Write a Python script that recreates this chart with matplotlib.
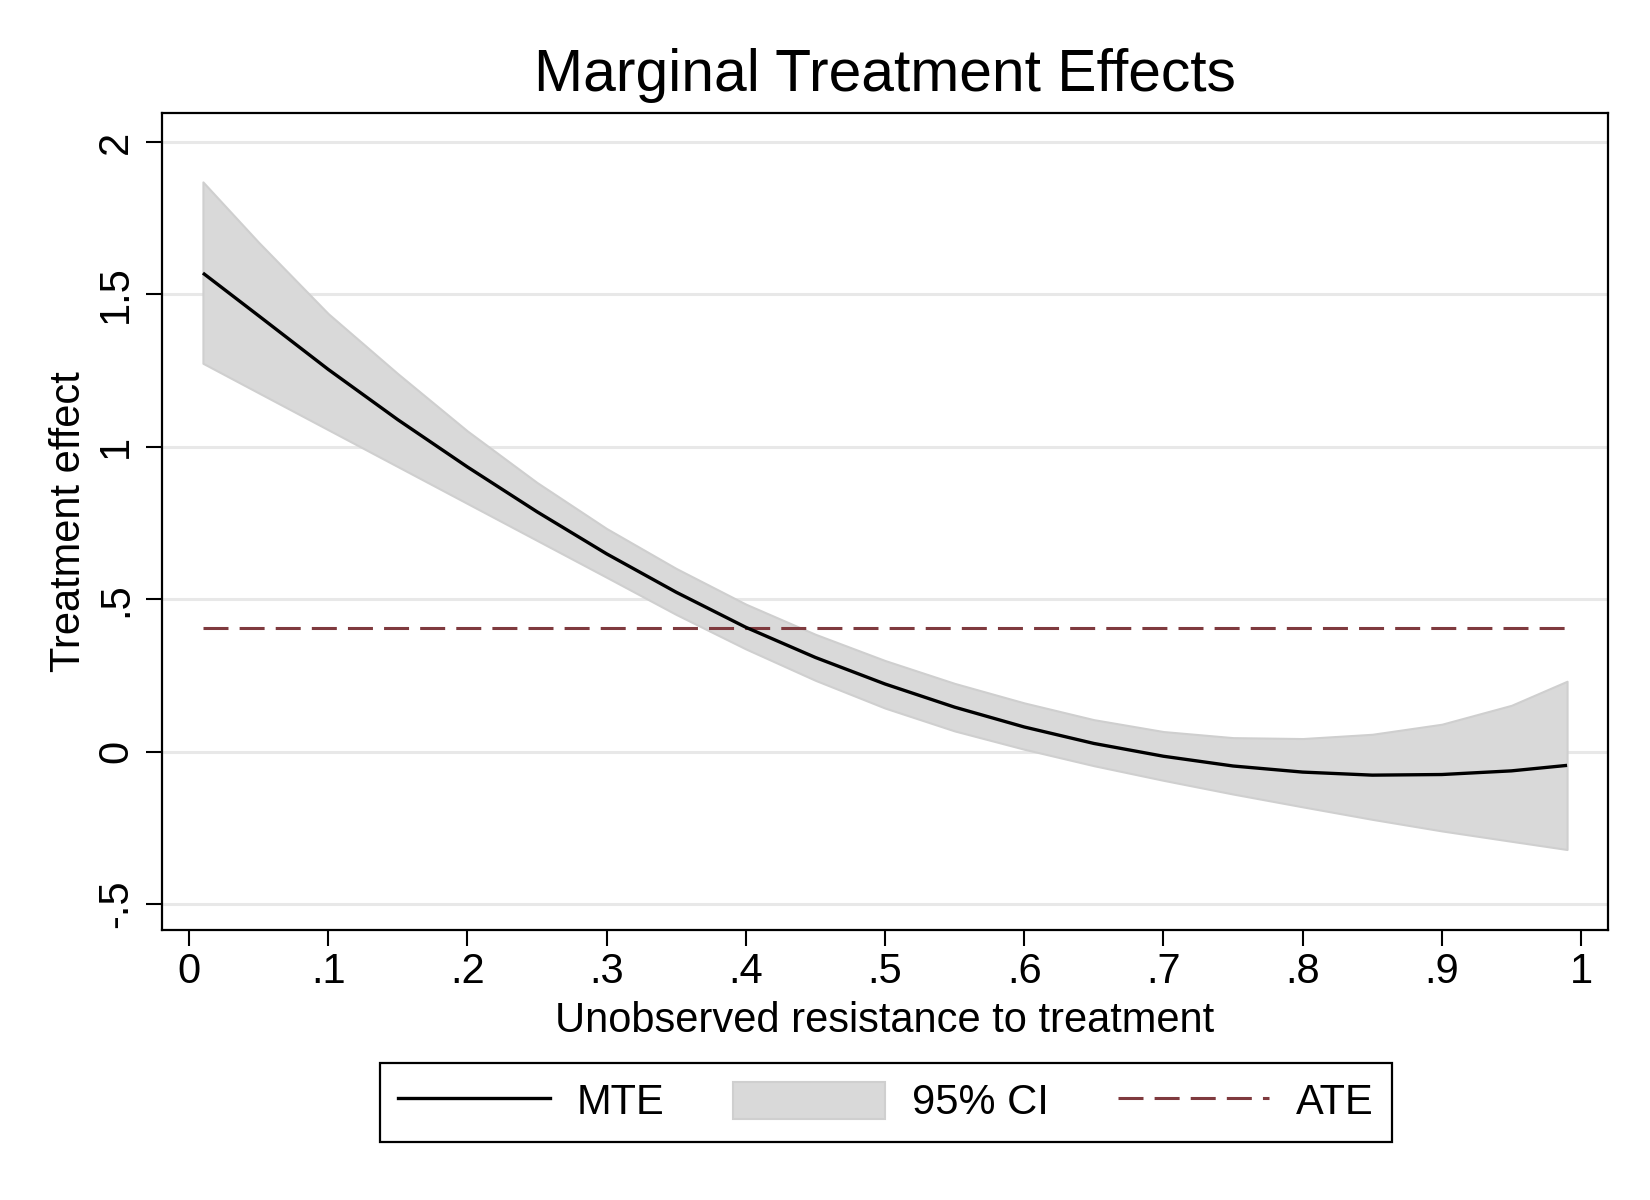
import matplotlib
matplotlib.use("Agg")
import matplotlib.pyplot as plt
from matplotlib.lines import Line2D
from matplotlib.patches import Patch

plt.rcParams['font.family'] = ['Liberation Sans', 'DejaVu Sans']
plt.rcParams['lines.scale_dashes'] = False

# ---- data ----
u = [0.01, 0.05, 0.10, 0.15, 0.20, 0.25, 0.30, 0.35, 0.40, 0.45, 0.50,
     0.55, 0.60, 0.65, 0.70, 0.75, 0.80, 0.85, 0.90, 0.95, 0.99]
mte = [1.570, 1.430, 1.254, 1.089, 0.934, 0.787, 0.649, 0.523, 0.408, 0.309, 0.222,
       0.146, 0.081, 0.027, -0.015, -0.047, -0.067, -0.077, -0.075, -0.063, -0.045]
ci_upper = [1.869, 1.671, 1.437, 1.240, 1.052, 0.883, 0.732, 0.601, 0.484, 0.385, 0.299,
            0.224, 0.160, 0.105, 0.066, 0.046, 0.043, 0.057, 0.090, 0.152, 0.231]
ci_lower = [1.274, 1.177, 1.056, 0.935, 0.814, 0.693, 0.572, 0.450, 0.337, 0.234, 0.143,
            0.068, 0.008, -0.046, -0.094, -0.139, -0.181, -0.222, -0.260, -0.294, -0.321]
ate = 0.407

xticks = [0, 0.1, 0.2, 0.3, 0.4, 0.5, 0.6, 0.7, 0.8, 0.9, 1.0]
xticklabels = ["0", ".1", ".2", ".3", ".4", ".5", ".6", ".7", ".8", ".9", "1"]
yticks = [-0.5, 0, 0.5, 1, 1.5, 2]
yticklabels = ["-.5", "0", ".5", "1", "1.5", "2"]

title = "Marginal Treatment Effects"
xlabel = "Unobserved resistance to treatment"
ylabel = "Treatment effect"
legend_labels = ["MTE", "95% CI", "ATE"]

# ---- styles ----
band_fill = "#d9d9d9"
band_edge = "#cfcfcf"
ate_color = "#7f3a3e"
grid_color = "#e8e8e8"
fs = 30

fig = plt.figure(figsize=(16.5, 12), dpi=100)
ax = fig.add_axes([162/1650, 1 - 930/1200, (1608-162)/1650, (930-113)/1200])

for yv in yticks:
    ax.axhline(yv, color=grid_color, lw=2.2, zorder=0)

ax.fill_between(u, ci_lower, ci_upper, facecolor=band_fill, edgecolor=band_edge,
                lw=1.5, zorder=1)
ax.plot(u, mte, color="black", lw=2.4, zorder=3, solid_capstyle='butt')
ax.plot([u[0], u[-1]], [ate, ate], color=ate_color, lw=2.2, dashes=(18, 8), zorder=2)

ax.set_xlim(-0.0194, 1.0194)
ax.set_ylim(-0.585, 2.095)
ax.set_xticks(xticks)
ax.set_xticklabels(xticklabels)
ax.set_yticks(yticks)
ax.set_yticklabels(yticklabels)

for s in ax.spines.values():
    s.set_linewidth(1.6)
    s.set_color("black")

ax.tick_params(axis='both', which='major', length=11.5, width=1.5, labelsize=fs,
               direction='out', color='black')
ax.tick_params(axis='x', pad=4)
ax.tick_params(axis='y', pad=7, labelrotation=90)
for lbl in ax.get_yticklabels():
    lbl.set_va('center')
    lbl.set_ha('right')

ax.set_title(title, fontsize=42.3, pad=16)

ax.set_xlabel(xlabel, fontsize=fs)
ax.xaxis.label.set_va('baseline')
ax.xaxis.set_label_coords(0.5, (930 - 1032) / 817)

ax.set_ylabel(ylabel, fontsize=fs)
ax.yaxis.label.set_rotation_mode('default')
ax.yaxis.label.set_va('center')
ax.yaxis.label.set_ha('center')
ax.yaxis.set_label_coords((69 - 162) / 1446, 0.5)

handles = [
    Line2D([0], [0], color="black", lw=2.4),
    Patch(facecolor=band_fill, edgecolor=band_edge, lw=1.5),
    Line2D([0], [0], color=ate_color, lw=2.2, dashes=(18, 8)),
]
leg = fig.legend(handles, legend_labels, loc='center', ncol=3,
                 bbox_to_anchor=(886/1650, 1 - 1102.5/1200), bbox_transform=fig.transFigure,
                 fontsize=fs, frameon=True, fancybox=False, framealpha=1,
                 edgecolor='black', handlelength=3.64, handleheight=1.0,
                 handletextpad=0.65, columnspacing=1.65, borderpad=0.44,
                 borderaxespad=0)
leg.get_frame().set_linewidth(1.6)

fig.savefig("out.png", dpi=100, facecolor="white")
